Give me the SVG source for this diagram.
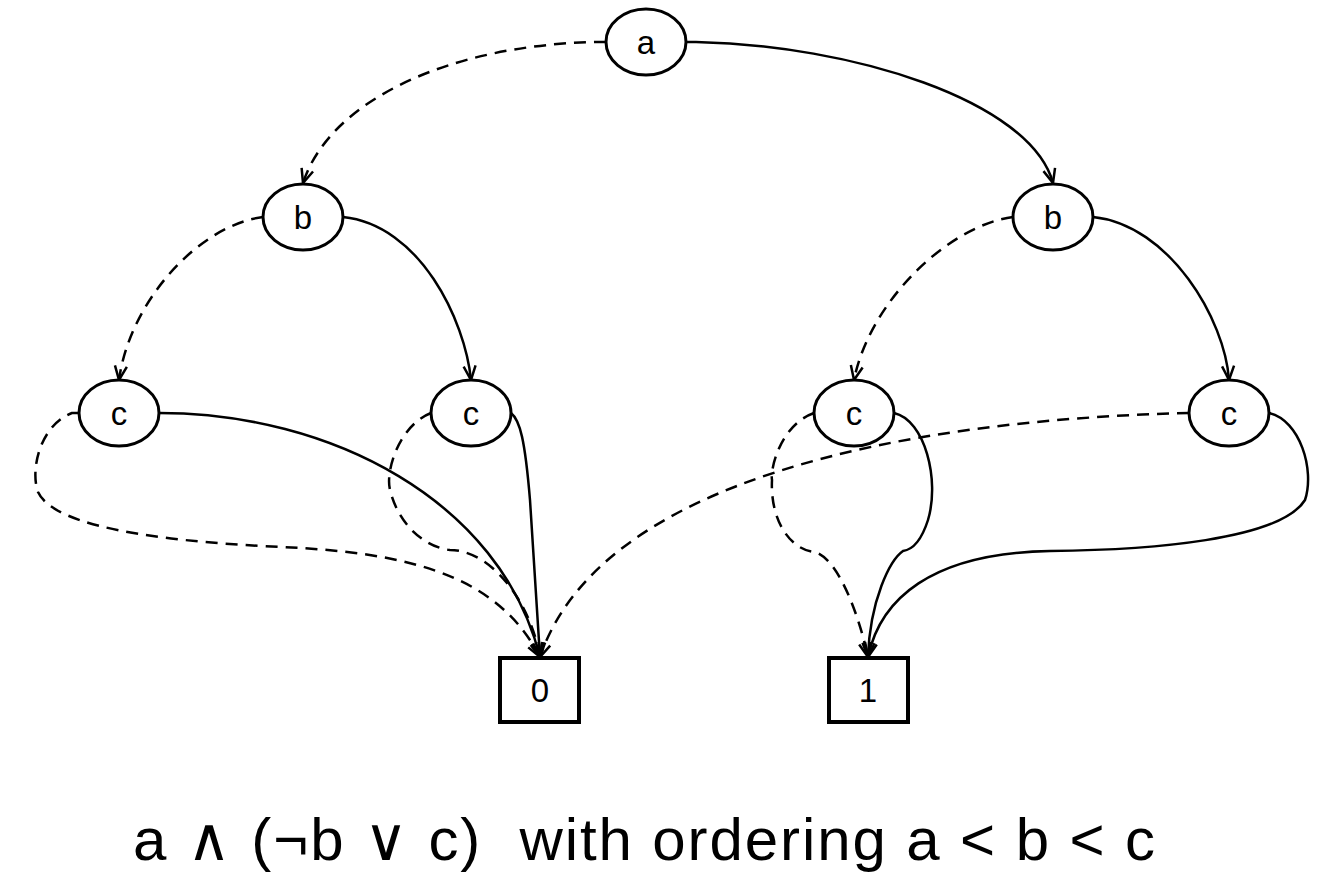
<svg xmlns="http://www.w3.org/2000/svg" width="1340" height="884" viewBox="0 0 1340 884">
<style>
.n{fill:#fff;stroke:#000;stroke-width:3}
.t{font-family:"Liberation Sans",Arial,sans-serif;font-size:33px;text-anchor:middle}
.e{fill:none;stroke:#000;stroke-width:2.5}
.d{stroke-dasharray:12,8}
</style>
<defs><marker id="ar" viewBox="0 0 16 16" refX="15" refY="8" markerWidth="16" markerHeight="16" markerUnits="userSpaceOnUse" orient="auto"><path d="M1,2 L15,8 L1,14" fill="none" stroke="#000" stroke-width="2.5"/></marker></defs>
<rect width="1340" height="884" fill="#fff"/>
<g id="edges">
<path class="e d" marker-end="url(#ar)" d="M606,42 L596,42 C450,45 330,100 303,183"/>
<path class="e" marker-end="url(#ar)" d="M686,42 L696,42 C850,45 1030,100 1053,183"/>
<path class="e d" marker-end="url(#ar)" d="M263,217 C200,225 130,300 119,380"/>
<path class="e" marker-end="url(#ar)" d="M343,217 C420,225 465,320 471,380"/>
<path class="e d" marker-end="url(#ar)" d="M1013,217 C950,225 870,300 854,380"/>
<path class="e" marker-end="url(#ar)" d="M1093,217 C1170,225 1225,320 1229,380"/>
<path class="e d" marker-end="url(#ar)" d="M79,413 L72,413 C40,425 30,470 38,492 C60,540 250,545 300,548 C420,555 500,580 540,657"/>
<path class="e" marker-end="url(#ar)" d="M159,413 C330,413 500,500 540,657"/>
<path class="e d" marker-end="url(#ar)" d="M431,413 C400,425 385,470 390,490 C400,530 430,548 450,550 C490,550 530,600 540,657"/>
<path class="e" marker-end="url(#ar)" d="M511,413 C520,420 525,440 530,500 L540,657"/>
<path class="e d" marker-end="url(#ar)" d="M814,413 C780,425 770,470 772,480 C770,520 790,550 815,552 C840,560 860,620 868,657"/>
<path class="e" marker-end="url(#ar)" d="M894,413 C925,420 940,480 928,520 C920,545 910,550 903,551 C890,560 870,600 868,657"/>
<path class="e d" marker-end="url(#ar)" d="M1189,413 C900,420 600,480 540,657"/>
<path class="e" marker-end="url(#ar)" d="M1269,413 C1300,420 1315,470 1305,500 C1280,540 1150,550 1050,551 C930,553 880,600 868,657"/>
</g>
<g id="a"><ellipse class="n" cx="646" cy="42" rx="40" ry="33"/><text class="t" x="646" y="54">a</text></g>
<g id="b1"><ellipse class="n" cx="303" cy="217" rx="40" ry="33"/><text class="t" x="303" y="229">b</text></g>
<g id="b2"><ellipse class="n" cx="1053" cy="217" rx="40" ry="33"/><text class="t" x="1053" y="229">b</text></g>
<g id="c1"><ellipse class="n" cx="119" cy="413" rx="40" ry="33"/><text class="t" x="119" y="425">c</text></g>
<g id="c2"><ellipse class="n" cx="471" cy="413" rx="40" ry="33"/><text class="t" x="471" y="425">c</text></g>
<g id="c3"><ellipse class="n" cx="854" cy="413" rx="40" ry="33"/><text class="t" x="854" y="425">c</text></g>
<g id="c4"><ellipse class="n" cx="1229" cy="413" rx="40" ry="33"/><text class="t" x="1229" y="425">c</text></g>
<g id="zero"><rect x="500" y="658" width="79" height="64" fill="#fff" stroke="#000" stroke-width="4"/><text class="t" x="540" y="702">0</text></g>
<g id="one"><rect x="829" y="658" width="79" height="64" fill="#fff" stroke="#000" stroke-width="4"/><text class="t" x="868" y="702">1</text></g>
<text x="644" y="860" font-family="Liberation Sans,Arial,sans-serif" font-size="60" text-anchor="middle" textLength="1022" xml:space="preserve" style="white-space:pre">a ∧ (¬b ∨ c)  with ordering a &lt; b &lt; c</text>
</svg>
